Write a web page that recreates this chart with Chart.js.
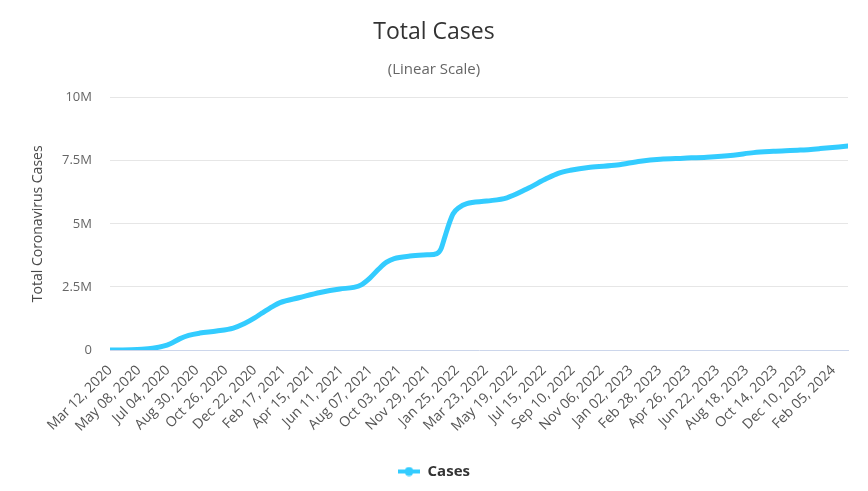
<!DOCTYPE html>
<html lang="en">
<head>
  <meta charset="UTF-8" />
  <title>Total Cases</title>
  <script src="https://cdn.jsdelivr.net/npm/chart.js"></script>
  <style>
    body { margin: 0; background: #fff; }
    #wrap { width: 868px; height: 491px; }
  </style>
</head>
<body>
  <div id="wrap"><canvas id="casesChart"></canvas></div>

  <script>
    // labels shown under the x axis, one every 57 days from Mar 12, 2020
    const tickLabels = [
      'Mar 12, 2020', 'May 08, 2020', 'Jul 04, 2020', 'Aug 30, 2020', 'Oct 26, 2020',
      'Dec 22, 2020', 'Feb 17, 2021', 'Apr 15, 2021', 'Jun 11, 2021', 'Aug 07, 2021',
      'Oct 03, 2021', 'Nov 29, 2021', 'Jan 25, 2022', 'Mar 23, 2022', 'May 19, 2022',
      'Jul 15, 2022', 'Sep 10, 2022', 'Nov 06, 2022', 'Jan 02, 2023', 'Feb 28, 2023',
      'Apr 26, 2023', 'Jun 22, 2023', 'Aug 18, 2023', 'Oct 14, 2023', 'Dec 10, 2023',
      'Feb 05, 2024'
    ];
    const tickStep = 57;

    // days since Mar 12, 2020 and total cases
    const days = [
      0, 21, 42, 63, 84, 105, 120, 138, 155, 177,
      210, 243, 265, 285, 300, 320, 335, 374, 414, 453,
      480, 495, 512, 530, 545, 560, 591, 625, 644, 652,
      660, 668, 676, 688, 703, 742, 782, 821, 861, 883,
      907, 946, 999, 1045, 1084, 1130, 1176, 1228, 1268, 1307,
      1360, 1399, 1454
    ];
    const cases = [
      0, 3000, 10000, 30000, 70000, 150000, 260000, 450000, 580000, 670000,
      750000, 870000, 1050000, 1270000, 1470000, 1720000, 1880000, 2080000, 2280000, 2420000,
      2480000, 2580000, 2850000, 3220000, 3480000, 3620000, 3720000, 3770000, 3820000, 4000000,
      4500000, 5000000, 5400000, 5650000, 5800000, 5900000, 6030000, 6380000, 6800000, 7000000,
      7120000, 7240000, 7330000, 7480000, 7560000, 7600000, 7640000, 7720000, 7820000, 7870000,
      7920000, 7980000, 8080000
    ];
    const yTicks = [0, 2500000, 5000000, 7500000, 10000000];

    const lineColor = '#33ccff';

    function legendMark() {
      const c = document.createElement('canvas');
      c.width = 22; c.height = 10;
      const g = c.getContext('2d');
      g.strokeStyle = lineColor;
      g.lineWidth = 4;
      g.beginPath(); g.moveTo(0, 5); g.lineTo(22, 5); g.stroke();
      g.fillStyle = lineColor;
      g.beginPath(); g.arc(11, 5, 4.5, 0, Math.PI * 2); g.fill();
      return c;
    }

    Chart.defaults.font.family = "'Open Sans', sans-serif";

    new Chart(document.getElementById('casesChart'), {
      type: 'line',
      data: {
        datasets: [{
          label: 'Cases',
          data: days.map((d, i) => ({ x: d, y: cases[i] })),
          borderColor: lineColor,
          backgroundColor: lineColor,
          borderWidth: 5,
          borderCapStyle: 'round',
          borderJoinStyle: 'round',
          cubicInterpolationMode: 'monotone',
          pointRadius: 0,
          pointStyle: legendMark()
        }]
      },
      options: {
        responsive: true,
        maintainAspectRatio: false,
        animation: false,
        events: [],
        layout: { padding: { left: 0, right: 0, top: 0, bottom: 2 } },
        plugins: {
          title: {
            display: true,
            text: 'Total Cases',
            color: '#333',
            font: { size: 23, weight: 'normal' },
            padding: { top: 19, bottom: 7 }
          },
          subtitle: {
            display: true,
            text: '(Linear Scale)',
            color: '#666',
            font: { size: 15 },
            padding: { top: 7, bottom: 19 }
          },
          legend: {
            position: 'bottom',
            labels: {
              usePointStyle: true,
              pointStyleWidth: 22,
              color: '#333',
              font: { size: 15, weight: 'bold' }
            }
          },
          tooltip: { enabled: false }
        },
        scales: {
          x: {
            type: 'linear',
            min: 0,
            max: days[days.length - 1],
            afterBuildTicks: s => { s.ticks = tickLabels.map((_, i) => ({ value: i * tickStep })); },
            afterFit: s => { s.height = 104; s.paddingRight = 20; s.paddingLeft = 0; },
            grid: { display: false, drawTicks: false },
            border: { display: true, color: '#ccd6eb', width: 1 },
            ticks: {
              autoSkip: false,
              minRotation: 45,
              maxRotation: 45,
              padding: 12,
              color: '#555',
              font: { size: 14 },
              callback: v => tickLabels[Math.round(v / tickStep)]
            }
          },
          y: {
            min: 0,
            max: 10000000,
            afterBuildTicks: s => { s.ticks = yTicks.map(v => ({ value: v })); },
            afterFit: s => { s.width = 110; },
            border: { display: false },
            grid: {
              drawTicks: false,
              color: c => c.tick && c.tick.value === 0 ? 'rgba(0,0,0,0)' : '#e6e6e6'
            },
            ticks: {
              padding: 18,
              color: '#666',
              font: { size: 13 },
              callback: v => v === 0 ? '0' : (v / 1000000) + 'M'
            },
            title: {
              display: true,
              text: 'Total Coronavirus Cases',
              color: '#4a4a4a',
              font: { size: 14 },
              padding: { top: 30, bottom: 0 }
            }
          }
        }
      }
    });
  </script>
</body>
</html>
